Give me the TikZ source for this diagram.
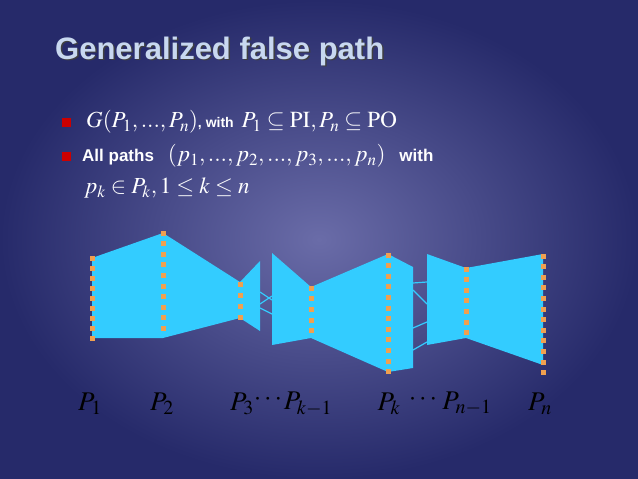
\documentclass[tikz,border=0pt]{standalone}
\usepackage{fontspec}
\usepackage{mathptmx}
\setsansfont{Liberation Sans}
\usetikzlibrary{shadings}
\begin{document}
\begin{tikzpicture}[x=1pt,y=-1pt,
  wire/.style={draw=blobc, line width=1.2pt},
  lab/.style={font=\fontsize{27}{27}\selectfont, text=black, inner sep=0pt},
  txt/.style={anchor=west, text=white, inner sep=0pt, font=\fontsize{23}{23}\selectfont},
  bul/.style={fill=red!80!black, minimum size=9pt, inner sep=0pt}]
\definecolor{blobc}{HTML}{33CCFF}
\definecolor{dotc}{HTML}{F0A050}
\definecolor{bgout}{HTML}{262A6A}
\definecolor{bgin}{HTML}{6A6CA8}
\definecolor{titc}{HTML}{C8D8F0}
\useasboundingbox (0,0) rectangle (638,479);
\shade[inner color=bgin, outer color=bgout] (0,0) rectangle (638,479);
% title
\node[anchor=west, text=titc, inner sep=0pt, font=\sffamily\bfseries\fontsize{31}{31}\selectfont] (title) at (55,52) {\rlap{\kern1.5pt\raisebox{-1.5pt}{\color{black!75}Generalized false path}}Generalized false path};
% bullets
\node[bul] (b1) at (66,122) {};
\node[bul] (b2) at (66,156) {};
\node[txt] (l1) at (86,122) {$G(P_1,...,P_n)$\sffamily\fontsize{14}{14}\selectfont\bfseries, with\ \ \normalfont\fontsize{23}{23}\selectfont$P_1\subseteq\mathrm{PI}, P_n\subseteq \mathrm{PO}$};
\node[txt] (l2) at (82,156) {{\sffamily\bfseries\fontsize{17}{17}\selectfont All paths}\ \ $(p_1,...,p_2,...,p_3,...,p_n)$\ \ {\sffamily\bfseries\fontsize{17}{17}\selectfont with}};
\node[txt] (l3) at (84,188) {$p_k\in P_k, 1\le k\le n$};
% shapes
\fill[blobc] (92,258) -- (163,233) -- (240,282) -- (240,318) -- (163,338) -- (92,338) -- cycle;
\fill[blobc] (240,282) -- (260,261) -- (260,331) -- (240,318) -- cycle;
\fill[blobc] (272,253) -- (311,287) -- (388,254) -- (413,267) -- (413,368) -- (388,372) -- (311,338) -- (272,345) -- cycle;
\fill[blobc] (427,254) -- (466,268) -- (543,254) -- (543,365) -- (466,338) -- (427,345) -- cycle;
% wires
\coordinate (w1) at (260,292); \coordinate (w2) at (272,300);
\coordinate (w3) at (260,304); \coordinate (w4) at (272,296);
\coordinate (w5) at (260,308); \coordinate (w6) at (272,314);
\draw[wire] (w1) -- (w2); \draw[wire] (w3) -- (w4); \draw[wire] (w5) -- (w6);
\coordinate (v1) at (413,283); \coordinate (v2) at (427,282);
\coordinate (v3) at (413,290); \coordinate (v4) at (427,304);
\coordinate (v5) at (413,328); \coordinate (v6) at (427,322);
\coordinate (v7) at (413,350); \coordinate (v8) at (427,342);
\draw[wire] (v1) -- (v2); \draw[wire] (v3) -- (v4); \draw[wire] (v5) -- (v6); \draw[wire] (v7) -- (v8);
% dots
\foreach \y in {0,...,8} \fill[dotc] (89.5,{258+\y*10-2.5}) rectangle +(5,5);
\foreach \y in {0,...,9} \fill[dotc] (160.5,{233+\y*10.6-2.5}) rectangle +(5,5);
\foreach \y in {0,...,3} \fill[dotc] (237.5,{284+\y*11-2.5}) rectangle +(5,5);
\foreach \y in {0,...,4} \fill[dotc] (308.5,{288+\y*10.7-2.5}) rectangle +(5,5);
\foreach \y in {0,...,11} \fill[dotc] (385.5,{255+\y*10.6-2.5}) rectangle +(5,5);
\foreach \y in {0,...,6} \fill[dotc] (463.5,{269+\y*10.6-2.5}) rectangle +(5,5);
\foreach \y in {0,...,11} \fill[dotc] (540.5,{256+\y*10.6-2.5}) rectangle +(5,5);
\fill[dotc] (540.5,370) rectangle +(5,5);
% labels
\node[lab] (p1) at (90,404) {$P_1$};
\node[lab] (p2) at (162,404) {$P_2$};
\node[lab] (p3) at (242,404) {$P_3$};
\node[lab] (d1) at (268,400) {$\cdots$};
\node[lab] (pk1) at (308,404) {$P_{k-1}$};
\node[lab] (pk) at (389,404) {$P_k$};
\node[lab] (d2) at (423,400) {$\cdots$};
\node[lab] (pn1) at (467,404) {$P_{n-1}$};
\node[lab] (pn) at (540,404) {$P_n$};
\end{tikzpicture}
\end{document}
